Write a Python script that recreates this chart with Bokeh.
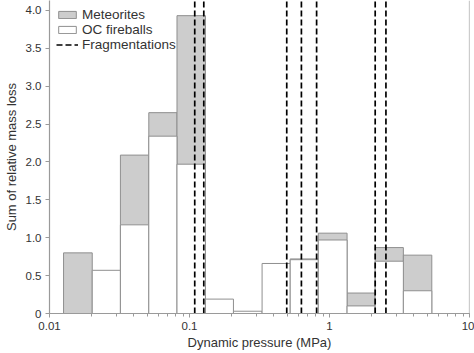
from bokeh.plotting import figure
from bokeh.models import (ColumnDataSource, FixedTicker, LogTicker, CustomJSTickFormatter,
                          Span, Legend, LegendItem)
from bokeh.embed import file_html
from bokeh.resources import INLINE

# ---- data ----
bin_edges = [0.0126, 0.0202, 0.0321, 0.0512, 0.0814, 0.130, 0.206, 0.330,
             0.524, 0.832, 1.335, 2.12, 3.37, 5.38]
meteorites = [0.80, 0.0, 2.09, 2.65, 3.93, 0.0, 0.0, 0.0, 0.72, 1.06, 0.27, 0.87, 0.77]
oc_fireballs = [0.0, 0.57, 1.17, 2.34, 1.97, 0.19, 0.03, 0.66, 0.71, 0.97, 0.10, 0.69, 0.30]
fragmentations = [0.109, 0.1265, 0.495, 0.630, 0.809, 2.12, 2.53]
y_ticks = [0, 0.5, 1.0, 1.5, 2.0, 2.5, 3.0, 3.5, 4.0]

FONT = "Liberation Sans"
TEXT = "#333333"
EDGE = "#8f8f8f"
GRAY = "#cdcdcd"

def bars(values):
    left, right, top = [], [], []
    for i, v in enumerate(values):
        if v > 0:
            left.append(bin_edges[i]); right.append(bin_edges[i + 1]); top.append(v)
    return ColumnDataSource(dict(left=left, right=right, top=top, bottom=[0] * len(top)))

Y_TOP = 4.13
p = figure(width=474, height=353, x_axis_type="log", x_range=(0.01, 10), y_range=(0, Y_TOP),
           output_backend="svg", toolbar_location=None,
           min_border_left=45, min_border_right=5, min_border_top=0, min_border_bottom=40)
p.outline_line_color = None
p.xgrid.visible = False
p.ygrid.visible = False
p.background_fill_color = "white"

r_met = p.quad(left="left", right="right", top="top", bottom="bottom", source=bars(meteorites),
               fill_color=GRAY, line_color=EDGE, line_width=1)
r_oc = p.quad(left="left", right="right", top="top", bottom="bottom", source=bars(oc_fireballs),
              fill_color="white", line_color=EDGE, line_width=1)
r_frag = p.segment(x0=fragmentations, x1=fragmentations, y0=[0] * len(fragmentations),
                   y1=[Y_TOP * 2] * len(fragmentations),
                   line_color="black", line_width=1.7, line_dash="6 3")

# right border
p.add_layout(Span(location=10, dimension="height", line_color="#9a9a9a", line_width=1.2))

# axes
xa = p.xaxis[0]
xa.ticker = LogTicker(num_minor_ticks=10)
xa.formatter = CustomJSTickFormatter(code="return tick.toString();")
ya = p.yaxis[0]
ya.ticker = FixedTicker(ticks=y_ticks, minor_ticks=[])
ya.formatter = CustomJSTickFormatter(code="return tick == 0 ? '0' : tick.toFixed(1);")

for ax in (xa, ya):
    ax.axis_line_color = "#9a9a9a"
    ax.axis_line_width = 1.2
    ax.major_tick_line_color = "#9a9a9a"
    ax.minor_tick_line_color = "#9a9a9a"
    ax.major_tick_in = 0
    ax.major_tick_out = 4
    ax.minor_tick_in = 0
    ax.minor_tick_out = 3
    ax.major_label_text_font = FONT
    ax.major_label_text_font_size = "11.5px"
    ax.major_label_text_color = TEXT
    ax.axis_label_text_font = FONT
    ax.axis_label_text_font_size = "13px"
    ax.axis_label_text_font_style = "normal"
    ax.axis_label_text_color = TEXT

xa.axis_label = "Dynamic pressure (MPa)"
xa.major_label_standoff = 4
xa.axis_label_standoff = 2
ya.axis_label = "Sum of relative mass loss"
ya.major_label_standoff = 4
ya.axis_label_standoff = 4

legend = Legend(items=[
    LegendItem(label="Meteorites", renderers=[r_met]),
    LegendItem(label="OC fireballs", renderers=[r_oc]),
    LegendItem(label="Fragmentations", renderers=[r_frag]),
], location="top_left")
legend.margin = 7
legend.padding = 1
legend.spacing = 0
legend.glyph_width = 22
legend.glyph_height = 9
legend.label_standoff = 4
legend.label_text_font = FONT
legend.label_text_font_size = "13.5px"
legend.label_text_color = TEXT
legend.border_line_color = None
legend.background_fill_alpha = 0
p.add_layout(legend)

open("out.html", "w").write(file_html(p, INLINE))
